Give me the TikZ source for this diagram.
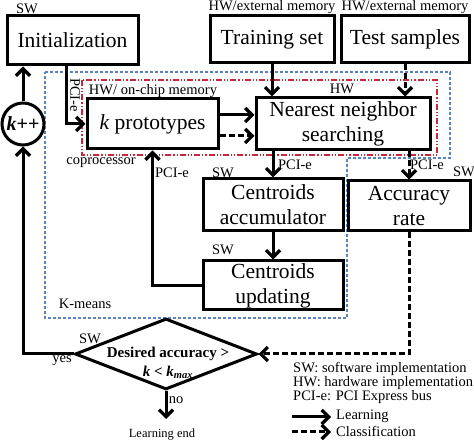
\documentclass[tikz,border=0pt]{standalone}
\usepackage{fontspec}
\setmainfont{Liberation Serif}
\usetikzlibrary{arrows.meta,shapes.geometric,calc}
\definecolor{kblue}{RGB}{90,130,190}
\definecolor{kred}{RGB}{200,40,60}
\begin{document}
\begin{tikzpicture}[x=1pt,y=-1pt,
  box/.style={draw, line width=3pt, inner sep=0pt, font=\fontsize{21.5}{25}\selectfont, align=center},
  lbl/.style={font=\fontsize{14.5}{14}\selectfont, inner sep=0pt},
  arr/.style={line width=3pt, -{Straight Barb[length=7pt,width=14pt,line width=3.2pt]}},
  darr/.style={arr, dash pattern=on 6pt off 3pt},
  bluebox/.style={draw=kblue, line width=1.1pt, dash pattern=on 3pt off 2pt},
  redbox/.style={draw=kred, line width=1.3pt, dash pattern=on 6pt off 2pt on 1.2pt off 2pt on 1.2pt off 2pt}
]
\useasboundingbox (0,0) rectangle (474,443);

% grouping frames
\draw[bluebox] (45,72) -- (450,72) -- (450,158) -- (347,158) -- (347,318) -- (45,318) -- cycle;
\draw[redbox] (82,80) rectangle (437,155);

% boxes
\node[box, minimum width=131pt, minimum height=49pt] (init) at (72.5,40.5) {Initialization};
\node[box, minimum width=124pt, minimum height=47pt] (train) at (272,39.5) {Training set};
\node[box, minimum width=128pt, minimum height=47pt] (test) at (405,39.5) {Test samples};
\node[box, minimum width=131pt, minimum height=50pt] (proto) at (152.5,124) {\textit{k} prototypes};
\node[box, minimum width=174pt, minimum height=52pt] (nn) at (343,124) {Nearest neighbor\\searching};
\node[box, minimum width=140pt, minimum height=52pt] (acc) at (273,205) {Centroids\\accumulator};
\node[box, minimum width=140pt, minimum height=49pt] (upd) at (273,285.5) {Centroids\\updating};
\node[box, minimum width=122pt, minimum height=50pt] (rate) at (409,206) {Accuracy\\rate};
\node[draw, circle, line width=3pt, minimum size=42pt, inner sep=0pt, font=\fontsize{20}{20}\selectfont\bfseries] (kpp) at (23,124) {\textit{k}++};
\node[draw, diamond, line width=3pt, minimum width=182pt, minimum height=71pt, inner sep=0pt] (dia) at (166,354) {};
\node[font=\fontsize{15}{19}\selectfont\bfseries, align=center, inner sep=0pt] (diatext) at (168,363) {Desired accuracy >\\\textit{k} < \textit{k}\textsubscript{\textit{max}}};
\coordinate (endpt) at (166,419);

% labels
\node[lbl] (l1) at (27,9) {SW};
\node[lbl] (l2) at (272,7) {HW/external memory};
\node[lbl] (l3) at (405,7) {HW/external memory};
\node[lbl, rotate=-90] (l4) at (75,95) {PCI-e};
\node[lbl] (l5) at (153,91) {HW/ on-chip memory};
\node[lbl] (l6) at (342,89) {HW};
\node[lbl] (l7) at (101,163) {coprocessor};
\node[lbl] (l8) at (172,173) {PCI-e};
\node[lbl] (l9) at (223,173) {SW};
\node[lbl] (l10) at (295,165) {PCI-e};
\node[lbl] (l11) at (427,165) {PCI-e};
\node[lbl] (l12) at (464,172) {SW};
\node[lbl] (l13) at (223,250) {SW};
\node[lbl] (l14) at (85,304) {K-means};
\node[lbl] (l15) at (90,339) {SW};
\node[lbl] (l16) at (62,361) {yes};
\node[lbl] (l17) at (176,400) {no};
\node[font=\fontsize{12.5}{13}\selectfont, inner sep=0pt] (l18) at (162,435) {Learning end};

% connectors
\draw[arr] ([xshift=-6.5pt]init.south) |- (proto.west);
\draw[arr] (kpp.north) -- (kpp.north |- init.south);
\draw[arr] (train.south) -- (train.south |- nn.north);
\draw[darr] (test.south) -- (test.south |- nn.north);
\draw[arr] ([yshift=9pt]proto.east) -- ([yshift=9pt]proto.east -| nn.west);
\draw[darr] ([yshift=-12pt]proto.east) -- ([yshift=-12pt]proto.east -| nn.west);
\draw[arr] (acc.north |- nn.south) -- (acc.north);
\draw[darr] (rate.north |- nn.south) -- (rate.north);
\draw[arr] (acc.south) -- (upd.north);
\draw[arr] (upd.west) -| (proto.south);
\draw[arr] (dia.west) -| (kpp.south);
\draw[darr] (rate.south) |- (dia.east);
\draw[arr] (dia.south) -- (endpt);

% legend
\node[lbl, anchor=west] (g1) at (293,369) {SW: software implementation};
\node[lbl, anchor=west] (g2) at (293,383) {HW: hardware implementation};
\node[lbl, anchor=west] (g3) at (293,397) {PCI-e: PCI Express bus};
\coordinate (la) at (292,417);
\coordinate (lb) at (331,417);
\coordinate (ca) at (292,432);
\coordinate (cb) at (331,432);
\draw[arr] (la) -- (lb);
\draw[darr] (ca) -- (cb);
\node[lbl, anchor=west] (g4) at (336,416) {Learning};
\node[lbl, anchor=west] (g5) at (336,431) {Classification};
\end{tikzpicture}
\end{document}
